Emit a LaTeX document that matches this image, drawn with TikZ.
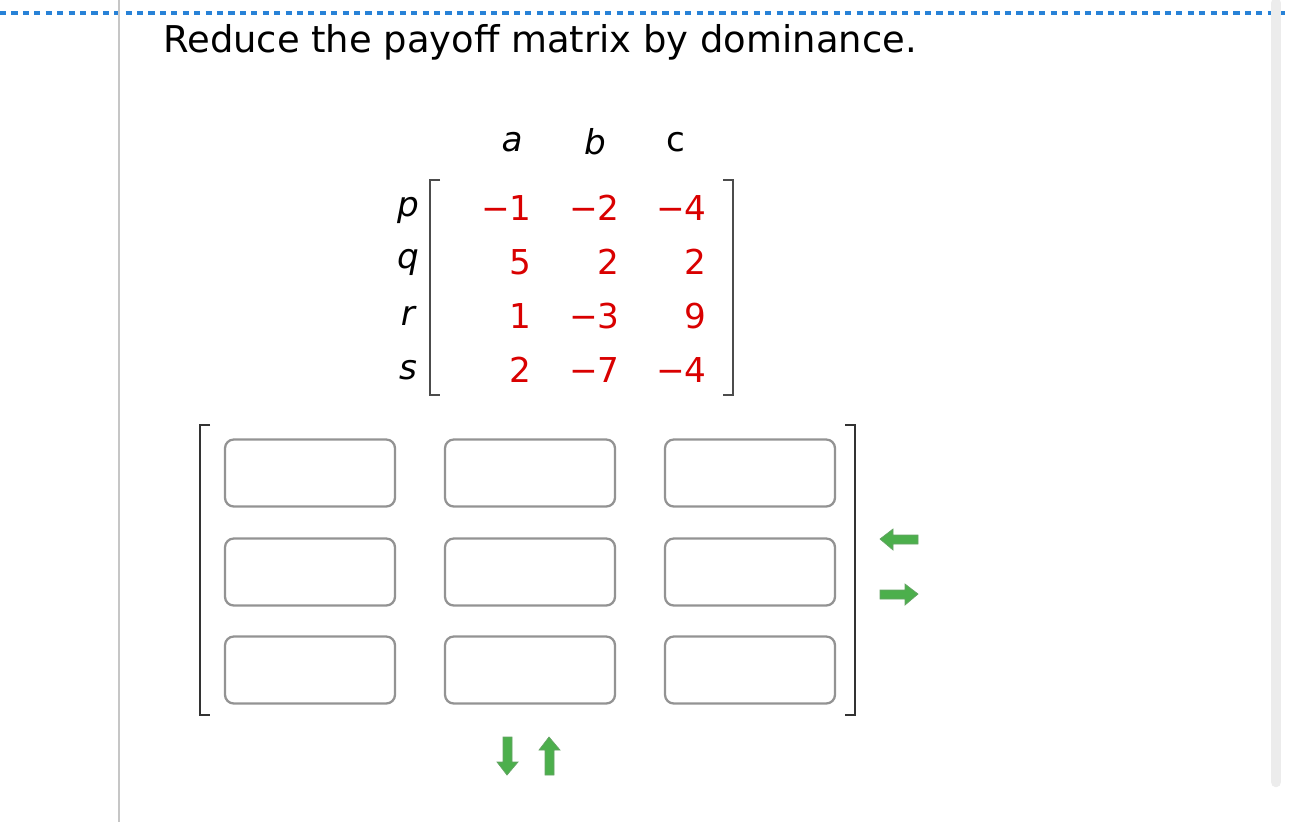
\documentclass[tikz,border=0pt]{standalone}
\usepackage{fontspec}
\setmainfont{DejaVu Sans}
\definecolor{dotblue}{RGB}{40,130,215}
\begin{document}
\begin{tikzpicture}[x=0.02cm,y=-0.02cm,
  txt/.style={font=\fontsize{19.5}{22}\selectfont,inner sep=0pt},
  lab/.style={txt,font=\fontsize{19.5}{22}\selectfont\itshape},
  num/.style={txt,text=red!85!black,anchor=east},
  ibox/.style={draw=gray!85,line width=1.3pt,rounded corners=5pt,minimum width=170*0.02cm,minimum height=67*0.02cm},
  garrow/.style={fill=green!55!black!70,draw=green!40!black!60,line width=0.4pt},
  brk/.style={line width=1.6pt,draw=black!80}]
\useasboundingbox (0,0) rectangle (1290,822);
\draw[dotblue,line width=2.2pt,dash pattern=on 3.5pt off 3pt] (0,13) -- (1290,13);
\draw[gray!45,line width=1.5pt] (119,0) -- (119,822);
\draw[gray!15,line width=6pt,line cap=round] (1276,3) -- (1276,782);
\node[txt,anchor=base west,font=\fontsize{21}{24}\selectfont] (title) at (163,52) {Reduce the payoff matrix by dominance.};
\node[lab] (ca) at (512,142) {a};
\node[lab] (cb) at (595,142) {b};
\node[txt] (cc) at (676,142) {c};
\foreach \n/\y in {p/210,q/262,r/316,s/370}{\node[lab] (r\n) at (408,\y) {\n};}
\draw[brk,draw=black!70] (440,180) -- (430,180) -- (430,395) -- (440,395);
\draw[brk,draw=black!70] (723,180) -- (733,180) -- (733,395) -- (723,395);
\node[num] (m11) at (532,208) {−1}; \node[num] (m12) at (620,208) {−2}; \node[num] (m13) at (707,208) {−4};
\node[num] (m21) at (532,262) {5}; \node[num] (m22) at (620,262) {2}; \node[num] (m23) at (707,262) {2};
\node[num] (m31) at (532,316) {1}; \node[num] (m32) at (620,316) {−3}; \node[num] (m33) at (707,316) {9};
\node[num] (m41) at (532,370) {2}; \node[num] (m42) at (620,370) {−7}; \node[num] (m43) at (707,370) {−4};
\draw[brk] (210,425) -- (200,425) -- (200,715) -- (210,715);
\draw[brk] (845,425) -- (855,425) -- (855,715) -- (845,715);
\foreach \i/\x in {1/310,2/530,3/750}{
  \foreach \j/\y in {1/473,2/572,3/670}{
    \node[ibox] (b\j\i) at (\x,\y) {};}}
\path[garrow] (880,539) -- (893,529) -- (893,535) -- (918,535) -- (918,544) -- (893,544) -- (893,550) -- cycle;
\path[garrow] (918,594) -- (905,584) -- (905,590) -- (880,590) -- (880,599) -- (905,599) -- (905,605) -- cycle;
\path[garrow] (507,775) -- (497,762) -- (503,762) -- (503,737) -- (512,737) -- (512,762) -- (518,762) -- cycle;
\path[garrow] (549,737) -- (539,750) -- (545,750) -- (545,775) -- (554,775) -- (554,750) -- (560,750) -- cycle;
\end{tikzpicture}
\end{document}
